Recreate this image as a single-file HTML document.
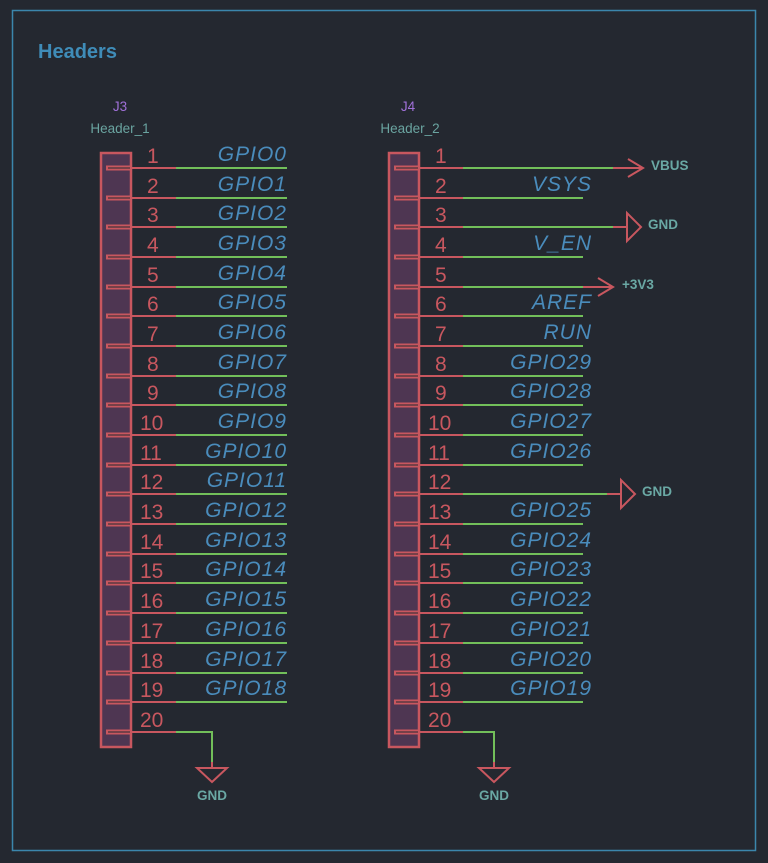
<!DOCTYPE html>
<html><head><meta charset="utf-8"><style>
html,body{margin:0;padding:0;background:#242830;}
svg{display:block}
.n{font-family:"Liberation Sans",sans-serif;font-size:21px;fill:#c8575f}
.l{font-family:"Liberation Sans",sans-serif;font-size:21px;font-style:italic;fill:#4a8cbc;text-anchor:end;letter-spacing:1px}
.p{font-family:"Liberation Sans",sans-serif;font-size:13.5px;font-weight:bold;fill:#6aa8a4}
.r{stroke:#c8575f;stroke-width:2;fill:none}
.s{stroke:#c8575f;stroke-width:2;fill:#242830}
.g{stroke:#72bf5a;stroke-width:2;fill:none}
</style></head><body>
<svg width="768" height="863" xmlns="http://www.w3.org/2000/svg">
<rect x="0" y="0" width="768" height="863" fill="#242830"/>
<rect x="12.5" y="10.5" width="743" height="840" fill="none" stroke="#3b86ac" stroke-width="1.5"/>
<text x="38" y="58" style="font-family:'Liberation Sans',sans-serif;font-size:20px;font-weight:bold;fill:#3f8cb8">Headers</text>

<text x="120" y="111" text-anchor="middle" style="font-family:'Liberation Sans',sans-serif;font-size:13.5px;fill:#a070d8">J3</text>
<text x="120" y="133" text-anchor="middle" style="font-family:'Liberation Sans',sans-serif;font-size:13.5px;fill:#6aa4a0">Header_1</text>
<rect x="101" y="153" width="30" height="594" fill="#4e3652" stroke="#c8575f" stroke-width="2.5"/>
<text x="408" y="111" text-anchor="middle" style="font-family:'Liberation Sans',sans-serif;font-size:13.5px;fill:#a070d8">J4</text>
<text x="410" y="133" text-anchor="middle" style="font-family:'Liberation Sans',sans-serif;font-size:13.5px;fill:#6aa4a0">Header_2</text>
<rect x="389" y="153" width="30" height="594" fill="#4e3652" stroke="#c8575f" stroke-width="2.5"/>

<g>
<g transform="translate(0,168)"><rect x="107" y="-1.5" width="24" height="3" class="s"/><line x1="131" y1="0" x2="176" y2="0" class="r"/><line x1="176" y1="0" x2="287" y2="0" class="g"/><text x="147" y="-5" class="n">1</text><text x="287" y="-7" class="l">GPIO0</text></g>
<g transform="translate(0,198)"><rect x="107" y="-1.5" width="24" height="3" class="s"/><line x1="131" y1="0" x2="176" y2="0" class="r"/><line x1="176" y1="0" x2="287" y2="0" class="g"/><text x="147" y="-5" class="n">2</text><text x="287" y="-7" class="l">GPIO1</text></g>
<g transform="translate(0,227)"><rect x="107" y="-1.5" width="24" height="3" class="s"/><line x1="131" y1="0" x2="176" y2="0" class="r"/><line x1="176" y1="0" x2="287" y2="0" class="g"/><text x="147" y="-5" class="n">3</text><text x="287" y="-7" class="l">GPIO2</text></g>
<g transform="translate(0,257)"><rect x="107" y="-1.5" width="24" height="3" class="s"/><line x1="131" y1="0" x2="176" y2="0" class="r"/><line x1="176" y1="0" x2="287" y2="0" class="g"/><text x="147" y="-5" class="n">4</text><text x="287" y="-7" class="l">GPIO3</text></g>
<g transform="translate(0,287)"><rect x="107" y="-1.5" width="24" height="3" class="s"/><line x1="131" y1="0" x2="176" y2="0" class="r"/><line x1="176" y1="0" x2="287" y2="0" class="g"/><text x="147" y="-5" class="n">5</text><text x="287" y="-7" class="l">GPIO4</text></g>
<g transform="translate(0,316)"><rect x="107" y="-1.5" width="24" height="3" class="s"/><line x1="131" y1="0" x2="176" y2="0" class="r"/><line x1="176" y1="0" x2="287" y2="0" class="g"/><text x="147" y="-5" class="n">6</text><text x="287" y="-7" class="l">GPIO5</text></g>
<g transform="translate(0,346)"><rect x="107" y="-1.5" width="24" height="3" class="s"/><line x1="131" y1="0" x2="176" y2="0" class="r"/><line x1="176" y1="0" x2="287" y2="0" class="g"/><text x="147" y="-5" class="n">7</text><text x="287" y="-7" class="l">GPIO6</text></g>
<g transform="translate(0,376)"><rect x="107" y="-1.5" width="24" height="3" class="s"/><line x1="131" y1="0" x2="176" y2="0" class="r"/><line x1="176" y1="0" x2="287" y2="0" class="g"/><text x="147" y="-5" class="n">8</text><text x="287" y="-7" class="l">GPIO7</text></g>
<g transform="translate(0,405)"><rect x="107" y="-1.5" width="24" height="3" class="s"/><line x1="131" y1="0" x2="176" y2="0" class="r"/><line x1="176" y1="0" x2="287" y2="0" class="g"/><text x="147" y="-5" class="n">9</text><text x="287" y="-7" class="l">GPIO8</text></g>
<g transform="translate(0,435)"><rect x="107" y="-1.5" width="24" height="3" class="s"/><line x1="131" y1="0" x2="176" y2="0" class="r"/><line x1="176" y1="0" x2="287" y2="0" class="g"/><text x="140" y="-5" class="n">10</text><text x="287" y="-7" class="l">GPIO9</text></g>
<g transform="translate(0,465)"><rect x="107" y="-1.5" width="24" height="3" class="s"/><line x1="131" y1="0" x2="176" y2="0" class="r"/><line x1="176" y1="0" x2="287" y2="0" class="g"/><text x="140" y="-5" class="n">11</text><text x="287" y="-7" class="l">GPIO10</text></g>
<g transform="translate(0,494)"><rect x="107" y="-1.5" width="24" height="3" class="s"/><line x1="131" y1="0" x2="176" y2="0" class="r"/><line x1="176" y1="0" x2="287" y2="0" class="g"/><text x="140" y="-5" class="n">12</text><text x="287" y="-7" class="l">GPIO11</text></g>
<g transform="translate(0,524)"><rect x="107" y="-1.5" width="24" height="3" class="s"/><line x1="131" y1="0" x2="176" y2="0" class="r"/><line x1="176" y1="0" x2="287" y2="0" class="g"/><text x="140" y="-5" class="n">13</text><text x="287" y="-7" class="l">GPIO12</text></g>
<g transform="translate(0,554)"><rect x="107" y="-1.5" width="24" height="3" class="s"/><line x1="131" y1="0" x2="176" y2="0" class="r"/><line x1="176" y1="0" x2="287" y2="0" class="g"/><text x="140" y="-5" class="n">14</text><text x="287" y="-7" class="l">GPIO13</text></g>
<g transform="translate(0,583)"><rect x="107" y="-1.5" width="24" height="3" class="s"/><line x1="131" y1="0" x2="176" y2="0" class="r"/><line x1="176" y1="0" x2="287" y2="0" class="g"/><text x="140" y="-5" class="n">15</text><text x="287" y="-7" class="l">GPIO14</text></g>
<g transform="translate(0,613)"><rect x="107" y="-1.5" width="24" height="3" class="s"/><line x1="131" y1="0" x2="176" y2="0" class="r"/><line x1="176" y1="0" x2="287" y2="0" class="g"/><text x="140" y="-5" class="n">16</text><text x="287" y="-7" class="l">GPIO15</text></g>
<g transform="translate(0,643)"><rect x="107" y="-1.5" width="24" height="3" class="s"/><line x1="131" y1="0" x2="176" y2="0" class="r"/><line x1="176" y1="0" x2="287" y2="0" class="g"/><text x="140" y="-5" class="n">17</text><text x="287" y="-7" class="l">GPIO16</text></g>
<g transform="translate(0,673)"><rect x="107" y="-1.5" width="24" height="3" class="s"/><line x1="131" y1="0" x2="176" y2="0" class="r"/><line x1="176" y1="0" x2="287" y2="0" class="g"/><text x="140" y="-5" class="n">18</text><text x="287" y="-7" class="l">GPIO17</text></g>
<g transform="translate(0,702)"><rect x="107" y="-1.5" width="24" height="3" class="s"/><line x1="131" y1="0" x2="176" y2="0" class="r"/><line x1="176" y1="0" x2="287" y2="0" class="g"/><text x="140" y="-5" class="n">19</text><text x="287" y="-7" class="l">GPIO18</text></g>
<g transform="translate(0,732)"><rect x="107" y="-1.5" width="24" height="3" class="s"/><line x1="131" y1="0" x2="176" y2="0" class="r"/><polyline points="176,0 212,0 212,30" class="g"/><line x1="212" y1="30" x2="212" y2="36" class="r"/><polygon points="197,36 227,36 212,50" class="r"/><text x="140" y="-5" class="n">20</text><text x="212" y="68" text-anchor="middle" class="p">GND</text></g>
</g>

<g>
<g transform="translate(0,168)"><rect x="395" y="-1.5" width="24" height="3" class="s"/><line x1="419" y1="0" x2="463" y2="0" class="r"/><line x1="463" y1="0" x2="613" y2="0" class="g"/><line x1="613" y1="0" x2="643" y2="0" class="r"/><polyline points="628,-9 643,0 628,9" class="r"/><text x="435" y="-5" class="n">1</text><text x="651" y="2" class="p">VBUS</text></g>
<g transform="translate(0,198)"><rect x="395" y="-1.5" width="24" height="3" class="s"/><line x1="419" y1="0" x2="463" y2="0" class="r"/><line x1="463" y1="0" x2="583" y2="0" class="g"/><text x="435" y="-5" class="n">2</text><text x="592" y="-7" class="l">VSYS</text></g>
<g transform="translate(0,227)"><rect x="395" y="-1.5" width="24" height="3" class="s"/><line x1="419" y1="0" x2="463" y2="0" class="r"/><line x1="463" y1="0" x2="613" y2="0" class="g"/><line x1="613" y1="0" x2="627" y2="0" class="r"/><polygon points="627,-14 627,14 641,0" class="r"/><text x="435" y="-5" class="n">3</text><text x="648" y="2" class="p">GND</text></g>
<g transform="translate(0,257)"><rect x="395" y="-1.5" width="24" height="3" class="s"/><line x1="419" y1="0" x2="463" y2="0" class="r"/><line x1="463" y1="0" x2="583" y2="0" class="g"/><text x="435" y="-5" class="n">4</text><text x="592" y="-7" class="l">V_EN</text></g>
<g transform="translate(0,287)"><rect x="395" y="-1.5" width="24" height="3" class="s"/><line x1="419" y1="0" x2="463" y2="0" class="r"/><line x1="463" y1="0" x2="583" y2="0" class="g"/><line x1="583" y1="0" x2="613" y2="0" class="r"/><polyline points="598,-9 613,0 598,9" class="r"/><text x="435" y="-5" class="n">5</text><text x="622" y="2" class="p">+3V3</text></g>
<g transform="translate(0,316)"><rect x="395" y="-1.5" width="24" height="3" class="s"/><line x1="419" y1="0" x2="463" y2="0" class="r"/><line x1="463" y1="0" x2="583" y2="0" class="g"/><text x="435" y="-5" class="n">6</text><text x="592" y="-7" class="l">AREF</text></g>
<g transform="translate(0,346)"><rect x="395" y="-1.5" width="24" height="3" class="s"/><line x1="419" y1="0" x2="463" y2="0" class="r"/><line x1="463" y1="0" x2="583" y2="0" class="g"/><text x="435" y="-5" class="n">7</text><text x="592" y="-7" class="l">RUN</text></g>
<g transform="translate(0,376)"><rect x="395" y="-1.5" width="24" height="3" class="s"/><line x1="419" y1="0" x2="463" y2="0" class="r"/><line x1="463" y1="0" x2="583" y2="0" class="g"/><text x="435" y="-5" class="n">8</text><text x="592" y="-7" class="l">GPIO29</text></g>
<g transform="translate(0,405)"><rect x="395" y="-1.5" width="24" height="3" class="s"/><line x1="419" y1="0" x2="463" y2="0" class="r"/><line x1="463" y1="0" x2="583" y2="0" class="g"/><text x="435" y="-5" class="n">9</text><text x="592" y="-7" class="l">GPIO28</text></g>
<g transform="translate(0,435)"><rect x="395" y="-1.5" width="24" height="3" class="s"/><line x1="419" y1="0" x2="463" y2="0" class="r"/><line x1="463" y1="0" x2="583" y2="0" class="g"/><text x="428" y="-5" class="n">10</text><text x="592" y="-7" class="l">GPIO27</text></g>
<g transform="translate(0,465)"><rect x="395" y="-1.5" width="24" height="3" class="s"/><line x1="419" y1="0" x2="463" y2="0" class="r"/><line x1="463" y1="0" x2="583" y2="0" class="g"/><text x="428" y="-5" class="n">11</text><text x="592" y="-7" class="l">GPIO26</text></g>
<g transform="translate(0,494)"><rect x="395" y="-1.5" width="24" height="3" class="s"/><line x1="419" y1="0" x2="463" y2="0" class="r"/><line x1="463" y1="0" x2="607" y2="0" class="g"/><line x1="607" y1="0" x2="621" y2="0" class="r"/><polygon points="621,-14 621,14 635,0" class="r"/><text x="428" y="-5" class="n">12</text><text x="642" y="2" class="p">GND</text></g>
<g transform="translate(0,524)"><rect x="395" y="-1.5" width="24" height="3" class="s"/><line x1="419" y1="0" x2="463" y2="0" class="r"/><line x1="463" y1="0" x2="583" y2="0" class="g"/><text x="428" y="-5" class="n">13</text><text x="592" y="-7" class="l">GPIO25</text></g>
<g transform="translate(0,554)"><rect x="395" y="-1.5" width="24" height="3" class="s"/><line x1="419" y1="0" x2="463" y2="0" class="r"/><line x1="463" y1="0" x2="583" y2="0" class="g"/><text x="428" y="-5" class="n">14</text><text x="592" y="-7" class="l">GPIO24</text></g>
<g transform="translate(0,583)"><rect x="395" y="-1.5" width="24" height="3" class="s"/><line x1="419" y1="0" x2="463" y2="0" class="r"/><line x1="463" y1="0" x2="583" y2="0" class="g"/><text x="428" y="-5" class="n">15</text><text x="592" y="-7" class="l">GPIO23</text></g>
<g transform="translate(0,613)"><rect x="395" y="-1.5" width="24" height="3" class="s"/><line x1="419" y1="0" x2="463" y2="0" class="r"/><line x1="463" y1="0" x2="583" y2="0" class="g"/><text x="428" y="-5" class="n">16</text><text x="592" y="-7" class="l">GPIO22</text></g>
<g transform="translate(0,643)"><rect x="395" y="-1.5" width="24" height="3" class="s"/><line x1="419" y1="0" x2="463" y2="0" class="r"/><line x1="463" y1="0" x2="583" y2="0" class="g"/><text x="428" y="-5" class="n">17</text><text x="592" y="-7" class="l">GPIO21</text></g>
<g transform="translate(0,673)"><rect x="395" y="-1.5" width="24" height="3" class="s"/><line x1="419" y1="0" x2="463" y2="0" class="r"/><line x1="463" y1="0" x2="583" y2="0" class="g"/><text x="428" y="-5" class="n">18</text><text x="592" y="-7" class="l">GPIO20</text></g>
<g transform="translate(0,702)"><rect x="395" y="-1.5" width="24" height="3" class="s"/><line x1="419" y1="0" x2="463" y2="0" class="r"/><line x1="463" y1="0" x2="583" y2="0" class="g"/><text x="428" y="-5" class="n">19</text><text x="592" y="-7" class="l">GPIO19</text></g>
<g transform="translate(0,732)"><rect x="395" y="-1.5" width="24" height="3" class="s"/><line x1="419" y1="0" x2="463" y2="0" class="r"/><polyline points="463,0 494,0 494,30" class="g"/><line x1="494" y1="30" x2="494" y2="36" class="r"/><polygon points="479,36 509,36 494,50" class="r"/><text x="428" y="-5" class="n">20</text><text x="494" y="68" text-anchor="middle" class="p">GND</text></g>
</g>
</svg>
</body></html>
